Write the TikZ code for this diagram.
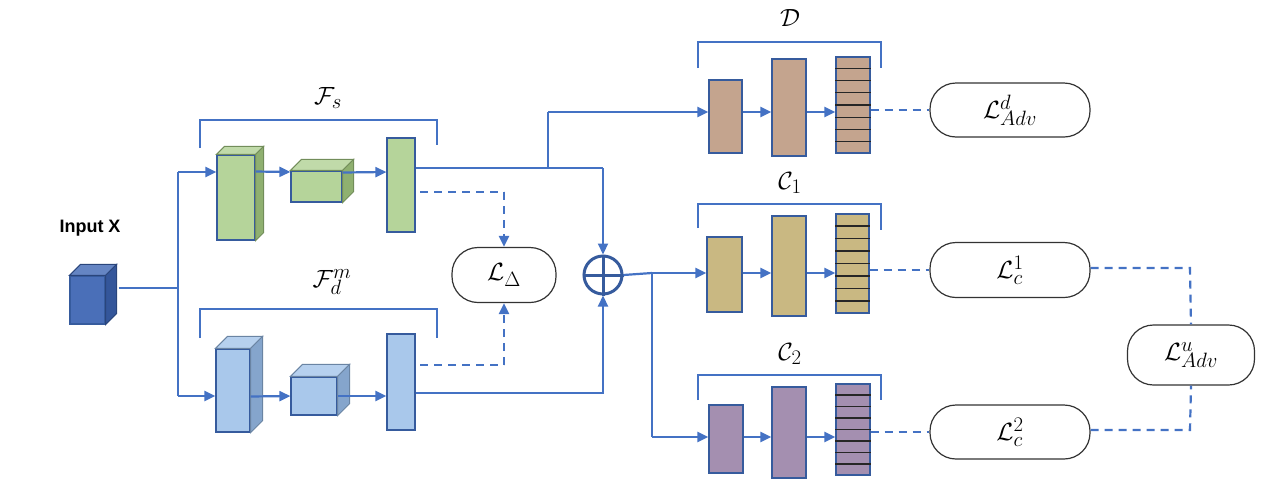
\documentclass[tikz,border=0pt]{standalone}
\usepackage{fontspec}
\newfontfamily\inputfont{Liberation Sans}
\usetikzlibrary{arrows.meta,calc}
\definecolor{ln}{HTML}{4472C4}
\definecolor{gF}{HTML}{B5D49A}\definecolor{gS}{HTML}{8FB070}
\definecolor{bF}{HTML}{A9C8EB}\definecolor{bS}{HTML}{85A5CC}
\definecolor{iF}{HTML}{4A6FB8}\definecolor{iS}{HTML}{34569A}
\definecolor{dF}{HTML}{C4A48E}\definecolor{cF}{HTML}{C9B882}\definecolor{pF}{HTML}{A48FB0}
\newcommand\mycube[8]{% name, x1,y1,x2,y2, depth, front, side
  \node[blk,fill=#7,minimum width={#4-#2},minimum height={#5-#3}] (#1) at ({(#2+#4)/2},{(#3+#5)/2}) {};
  \draw[draw=#8!80!black,line width=1pt,fill=#7!85!white] (#1.north west)--++(#6,-#6)--($(#1.north east)+(#6,-#6)$)--(#1.north east)--cycle;
  \draw[draw=#8!80!black,line width=1pt,fill=#8] (#1.north east)--++(#6,-#6)--($(#1.south east)+(#6,-#6)$)--(#1.south east)--cycle;}
\newcommand\myblk[6]{\node[blk,fill=#6,minimum width={#4-#2},minimum height={#5-#3}] (#1) at ({(#2+#4)/2},{(#3+#5)/2}) {};}
\newcommand\mystripe[1]{\foreach \i in {1,...,7}{\draw[black!85,line width=1.2pt] ($(#1.north west)!\i/8!(#1.south west)$)--($(#1.north east)!\i/8!(#1.south east)$);}}
\begin{document}
\begin{tikzpicture}[x=1pt,y=-1pt,
  blk/.style={draw=ln!80!black,line width=1.2pt,inner sep=0pt},
  ar/.style={ln,line width=2.2pt,-{Triangle[length=11pt,width=10pt]}},
  cn/.style={ln,line width=2.2pt},
  ds/.style={ln,line width=2.2pt,dash pattern=on 8pt off 6pt},
  loss/.style={draw=black!80,line width=1.2pt,rounded corners=26pt,fill=white,inner sep=0pt,font=\fontsize{28}{32}\selectfont},
  brk/.style={ln,line width=2.2pt},
  lab/.style={font=\fontsize{30}{34}\selectfont}]
\useasboundingbox (0,0) rectangle (1286,488);
\node[font=\inputfont\bfseries\fontsize{18}{22}\selectfont] (inx) at (90,228) {Input X};
\mycube{inp}{70}{276}{105}{324}{11}{iF}{iS}
% green
\mycube{g1}{217}{155}{255}{240}{8}{gF}{gS}
\mycube{g2}{291}{171}{342}{202}{11}{gF}{gS}
\myblk{g3}{387}{138}{415}{232}{gF}
% blue
\mycube{b1}{216}{349}{250}{432}{12}{bF}{bS}
\mycube{b2}{291}{377}{337}{415}{12}{bF}{bS}
\myblk{b3}{387}{334}{415}{430}{bF}
% brackets
\draw[brk] (200,148)--(200,120)--(437,120)--(437,145);
\node[lab] (lfs) at (328,98) {$\mathcal{F}_s$};
\draw[brk] (200,338)--(200,309)--(437,309)--(437,338);
\node[lab] (lfd) at (332,282) {$\mathcal{F}_d^m$};
% input lines
\coordinate (sp) at (178,288);
\draw[cn] (inp.east|-sp)++(13,0) coordinate (ie) -- (sp);
\draw[cn] (178,172)--(178,396);
\draw[ar] (178,172)--(g1.west|-0,172);
\draw[ar] (178,396)--(b1.west|-0,396);
\draw[ar] ($(g1.east)+(0,-26)$)--(g2.west|-0,172);
\draw[ar] ($(g2.east)+(0,-14)$)--(g3.west|-0,172);
\draw[ar] ($(b1.east)+(0,6)$)--(b2.west|-0,396);
\draw[ar] ($(b2.east)+(0,0)$)--(b3.west|-0,396);
% losses
\node[loss,minimum width=104pt,minimum height=55pt] (ld) at (504,275) {$\mathcal{L}_\Delta$};
\node[circle,draw=ln!80!black,line width=3pt,minimum size=38pt,inner sep=0pt] (sum) at (603,275) {};
\draw[ln!80!black,line width=3pt] (sum.north)--(sum.south) (sum.west)--(sum.east);
\draw[cn] (g3.east|-0,168)--(603,168);
\draw[ar] (603,168)--(sum.north);
\draw[ar] (b3.east|-0,393)--(603,393)--(sum.south);
\draw[ds] (420,192)--(504,192);
\draw[ds,-{Triangle[length=11pt,width=10pt]}] (504,192)--(ld.north);
\draw[ds] (420,365)--(504,365);
\draw[ds,-{Triangle[length=11pt,width=10pt]}] (504,365)--(ld.south);
% D
\myblk{d1}{709}{80}{742}{153}{dF}
\myblk{d2}{772}{59}{806}{156}{dF}
\myblk{d3}{836}{57}{870}{153}{dF}\mystripe{d3}
\draw[brk] (698,68)--(698,42)--(881,42)--(881,68);
\node[lab] (lD) at (790,18) {$\mathcal{D}$};
\draw[cn] (548,168)--(548,112);
\draw[ar] (548,112)--(d1.west|-0,112);
\draw[ar] (d1.east|-0,112)--(d2.west|-0,112);
\draw[ar] (d2.east|-0,112)--(d3.west|-0,112);
\node[loss,minimum width=160pt,minimum height=54pt] (lad) at (1010,110) {$\mathcal{L}^d_{Adv}$};
\draw[ds] (d3.east|-lad.west)--(lad.west);
% C1
\myblk{c1}{707}{237}{742}{312}{cF}
\myblk{c2}{772}{216}{806}{316}{cF}
\myblk{c3}{836}{214}{869}{313}{cF}\mystripe{c3}
\draw[brk] (698,228)--(698,204)--(881,204)--(881,230);
\node[lab] (lc1) at (790,183) {$\mathcal{C}_1$};
\draw[cn] (sum.east)--(652,273);
\draw[ar] (652,273)--(c1.west|-0,273);
\draw[ar] (c1.east|-0,273)--(c2.west|-0,273);
\draw[ar] (c2.east|-0,273)--(c3.west|-0,273);
\node[loss,minimum width=160pt,minimum height=55pt] (l1) at (1010,270) {$\mathcal{L}^1_c$};
\draw[ds] (c3.east|-l1.west)--(l1.west);
% C2
\myblk{p1}{709}{405}{743}{473}{pF}
\myblk{p2}{772}{387}{806}{478}{pF}
\myblk{p3}{836}{384}{870}{475}{pF}\mystripe{p3}
\draw[brk] (698,400)--(698,375)--(881,375)--(881,400);
\node[lab] (lc2) at (790,354) {$\mathcal{C}_2$};
\draw[cn] (652,273)--(652,437);
\draw[ar] (652,437)--(p1.west|-0,437);
\draw[ar] (p1.east|-0,437)--(p2.west|-0,437);
\draw[ar] (p2.east|-0,437)--(p3.west|-0,437);
\node[loss,minimum width=160pt,minimum height=54pt] (l2) at (1010,432) {$\mathcal{L}^2_c$};
\draw[ds] (p3.east|-l2.west)--(l2.west);
% Lu
\node[loss,minimum width=127pt,minimum height=60pt] (lu) at (1191,355) {$\mathcal{L}^u_{Adv}$};
\draw[ds] (l1.east|-0,268)--(1190,268)--(lu.north);
\draw[ds] (l2.east|-0,430)--(1190,430)--(lu.south);
\end{tikzpicture}
\end{document}
